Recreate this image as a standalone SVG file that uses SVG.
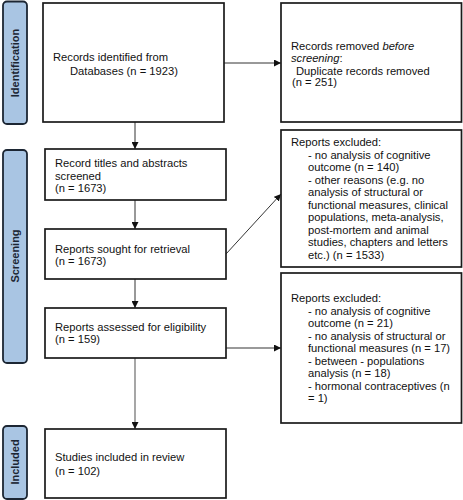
<svg xmlns="http://www.w3.org/2000/svg" width="463" height="500" viewBox="0 0 463 500">
<defs>
<style>
.tab{fill:#a9c5e3;stroke:#1c2633;stroke-width:1.8}
.tabt{font-family:"Liberation Sans",Arial,sans-serif;font-size:11px;font-weight:bold;fill:#1c2633;text-anchor:middle}
.box{fill:#fff;stroke:#1a1a1a;stroke-width:1.7}
.t{font-family:"Liberation Sans",Arial,sans-serif;font-size:11.2px;fill:#111}
.c{stroke:#333;stroke-width:1;fill:none}
.cg{stroke:#777;stroke-width:1.3;fill:none}
</style>
<marker id="ah" viewBox="0 0 10 10" refX="10" refY="5" markerWidth="7" markerHeight="7" markerUnits="userSpaceOnUse" orient="auto">
<path d="M0,0 L10,5 L0,10 z" fill="#111"/>
</marker>
</defs>
<rect width="463" height="500" fill="#fff"/>
<g id="tab-identification">
<rect class="tab" x="3" y="1.5" width="24" height="122.5" rx="4"/>
<text class="tabt" transform="translate(19,63) rotate(-90)">Identification</text>
</g>
<g id="tab-screening">
<rect class="tab" x="3" y="150" width="24" height="213" rx="4"/>
<text class="tabt" transform="translate(19,256) rotate(-90)">Screening</text>
</g>
<g id="tab-included">
<rect class="tab" x="3" y="426" width="24" height="73" rx="4"/>
<text class="tabt" transform="translate(19,462) rotate(-90)">Included</text>
</g>
<g id="connectors">
<line class="c" x1="135" y1="122" x2="135" y2="149" marker-end="url(#ah)"/>
<line class="c" x1="135" y1="200" x2="135" y2="229" marker-end="url(#ah)"/>
<line class="c" x1="135" y1="279" x2="135" y2="308" marker-end="url(#ah)"/>
<line class="cg" x1="135" y1="358" x2="135" y2="429" marker-end="url(#ah)"/>
<line class="c" x1="224" y1="63" x2="281" y2="63" marker-end="url(#ah)"/>
<line class="c" x1="226" y1="254" x2="281" y2="194" marker-end="url(#ah)"/>
<line class="cg" x1="226" y1="348" x2="281" y2="348" marker-end="url(#ah)"/>
</g>
<g id="n-identified">
<rect class="box" x="43" y="3" width="181" height="119"/>
<text class="t" x="53" y="61">Records identified from</text>
<text class="t" x="70" y="75">Databases (n = 1923)</text>
</g>
<g id="n-removed">
<rect class="box" x="281" y="3" width="180.5" height="119"/>
<text class="t" x="291" y="50">Records removed <tspan font-style="italic">before</tspan></text>
<text class="t" x="291" y="62"><tspan font-style="italic">screening</tspan>:</text>
<text class="t" x="296" y="75">Duplicate records removed</text>
<text class="t" x="292" y="86">(n = 251)</text>
</g>
<g id="n-screened">
<rect class="box" x="45" y="149" width="181" height="51"/>
<text class="t" x="55" y="167">Record titles and abstracts</text>
<text class="t" x="55" y="180">screened</text>
<text class="t" x="55" y="192">(n = 1673)</text>
</g>
<g id="n-sought">
<rect class="box" x="45" y="229" width="181" height="50"/>
<text class="t" x="55" y="253">Reports sought for retrieval</text>
<text class="t" x="55" y="265">(n = 1673)</text>
</g>
<g id="n-assessed">
<rect class="box" x="45" y="308" width="181" height="50"/>
<text class="t" x="55" y="331">Reports assessed for eligibility</text>
<text class="t" x="55" y="343">(n = 159)</text>
</g>
<g id="n-included">
<rect class="box" x="45" y="429" width="181" height="69"/>
<text class="t" x="55" y="461">Studies included in review</text>
<text class="t" x="55" y="475">(n = 102)</text>
</g>
<g id="n-excluded1">
<rect class="box" x="281" y="130" width="180.5" height="137"/>
<text class="t" x="291" y="146">Reports excluded:</text>
<text class="t" x="308" y="158.5">- no analysis of cognitive</text>
<text class="t" x="308" y="171">outcome (n = 140)</text>
<text class="t" x="308" y="183.5">- other reasons (e.g. no</text>
<text class="t" x="308" y="196">analysis of structural or</text>
<text class="t" x="308" y="208.5">functional measures, clinical</text>
<text class="t" x="308" y="221">populations, meta-analysis,</text>
<text class="t" x="308" y="233.5">post-mortem and animal</text>
<text class="t" x="308" y="246">studies, chapters and letters</text>
<text class="t" x="308" y="258.5">etc.) (n = 1533)</text>
</g>
<g id="n-excluded2">
<rect class="box" x="281" y="273" width="180.5" height="150"/>
<text class="t" x="291" y="302">Reports excluded:</text>
<text class="t" x="308" y="314.5">- no analysis of cognitive</text>
<text class="t" x="308" y="327">outcome (n = 21)</text>
<text class="t" x="308" y="339.5">- no analysis of structural or</text>
<text class="t" x="308" y="352">functional measures (n = 17)</text>
<text class="t" x="308" y="364.5">- between - populations</text>
<text class="t" x="308" y="377">analysis (n = 18)</text>
<text class="t" x="308" y="389.5">- hormonal contraceptives (n</text>
<text class="t" x="308" y="402">= 1)</text>
</g>
</svg>
